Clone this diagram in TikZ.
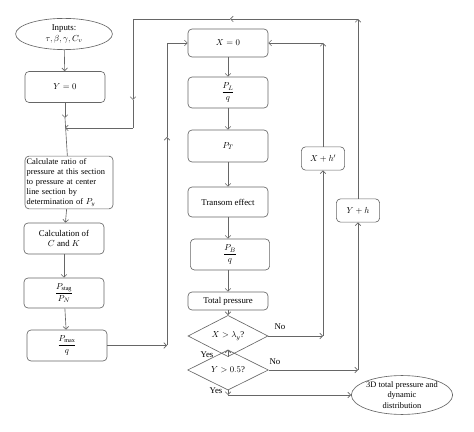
\documentclass[tikz,border=0pt]{standalone}
\usepackage{amsmath}
\usepackage{fontspec}
\setmainfont{Liberation Serif}
\usetikzlibrary{shapes.geometric, arrows.meta}

\begin{document}
\begin{tikzpicture}[x=1.25pt, y=-1.25pt, >={Straight Barb[length=3.5pt, width=7pt]},
    every node/.style={font=\fontsize{11}{13}\selectfont},
    lijn/.style={draw=black!60, line width=0.8pt},
    blok/.style={draw=black!60, line width=0.8pt, rounded corners=5pt, align=center,
        minimum width=100pt, minimum height=38.75pt, inner sep=2pt},
    keuze/.style={diamond, draw=black!60, line width=0.8pt, minimum width=100pt,
        minimum height=27.5pt, inner sep=0pt},
    eind/.style={ellipse, draw=black!60, line width=0.8pt, align=center, inner sep=0pt}]
            \useasboundingbox (0,0) rectangle (474,432);

            % Linker kolom
            \node[eind, minimum width=121pt, minimum height=39pt] (inp) at (64,34) {Inputs:\\ $\tau, \beta, \gamma, C_v$};
            \node[blok] (y0) at (65,87) {$Y = 0$};
            \node[blok, minimum width=110pt, minimum height=66pt, align=left, text width=106pt,
                font=\fontsize{10.5}{12.5}\selectfont] (calc) at (69,182.5)
                {Calculate ratio of\\ pressure at this section\\ to pressure at center\\ line section by\\ determination of $P_y$};
            \node[blok] (cck) at (64,238.5) {Calculation of\\ $C$ and $K$};
            \node[blok, minimum height=37.5pt] (stag) at (64,293) {$\dfrac{P_{\text{stag}}}{P_N}$};
            \node[blok] (pmax) at (67,345.5) {$\dfrac{P_{\max}}{q}$};

            % Middelste kolom
            \node[blok, minimum height=35pt] (x0) at (228,43) {$X = 0$};
            \node[blok] (pl) at (228,92.5) {$\dfrac{P_L}{q}$};
            \node[blok, minimum height=40pt] (pt) at (228,146) {$P_T$};
            \node[blok, minimum height=37.5pt] (trans) at (228,202) {Transom effect};
            \node[blok, minimum width=99pt] (pb) at (230,254.5) {$\dfrac{P_B}{q}$};
            \node[blok, minimum height=22.5pt] (tot) at (228,301) {Total pressure};
            \node[keuze] (dx) at (228,336) {$X > \lambda_y$?};
            \node[keuze, minimum width=101pt] (dy) at (228,370) {$Y > 0.5$?};

            % Rechter kolom
            \node[blok, minimum width=54pt, minimum height=29pt] (xh) at (323,158.5) {$X + h'$};
            \node[blok, minimum width=54pt, minimum height=29pt] (yh) at (358,210.5) {$Y + h$};
            \node[eind, minimum width=121pt, minimum height=42pt, font=\fontsize{10.5}{13.5}\selectfont] (uit) at (402,395)
                {3D total pressure and\\ dynamic\\ distribution};

            % Hulppunten
            \coordinate (a1) at (65,118);
            \coordinate (a2) at (65,128);
            \coordinate (tl) at (133,19);
            \coordinate (tm) at (230,19);
            \coordinate (tr) at (358,19);
            \coordinate (lm) at (133,100);
            \coordinate (lb) at (133,128);
            \coordinate (yr) at (358,370);
            \coordinate (xr) at (323,336);
            \coordinate (xt) at (323,43);
            \coordinate (pr) at (167,345.5);
            \coordinate (pm) at (167,137);
            \coordinate (pq) at (167,43);
            \coordinate (yb) at (228,395);

            % Hoofdstroom
            \draw[lijn, ->] (inp) -- (y0);
            \draw[lijn, ->] (y0) -- (a1);
            \draw[lijn] (a1) -- (calc);
            \draw[lijn, ->] (calc) -- (cck);
            \draw[lijn, ->] (cck) -- (stag);
            \draw[lijn, ->] (stag) -- (pmax);
            \draw[lijn, ->] (pmax.east |- pr) -- (pr);
            \draw[lijn, ->] (pr) -- (pm);
            \draw[lijn] (pm) -- (pq);
            \draw[lijn, ->] (pq) -- (x0.west |- pq);
            \draw[lijn, ->] (x0) -- (pl);
            \draw[lijn, ->] (pl) -- (pt);
            \draw[lijn, ->] (pt) -- (trans);
            \draw[lijn, ->] (trans) -- (tot.north |- pb.north);
            \draw[lijn, ->] (tot.north |- pb.south) -- (tot);
            \draw[lijn, ->] (tot) -- (dx);
            \draw[lijn, ->] (dx) -- (dy);
            \node at (207,355) {Yes};
            \draw[lijn, ->] (dy) -- (yb);
            \draw[lijn, ->] (yb) -- (uit);
            \node at (216,391) {Yes};

            % Lus X
            \draw[lijn, ->] (dx.east) -- (xr);
            \node at (280,327) {No};
            \draw[lijn, ->] (xr) -- (xh);
            \draw[lijn, ->] (xh) -- (xt);
            \draw[lijn, ->] (xt) -- (x0);

            % Lus Y
            \draw[lijn, ->] (dy.east) -- (yr);
            \node at (275,362) {No};
            \draw[lijn, ->] (yr) -- (yh);
            \draw[lijn, ->] (yh) -- (tr);
            \draw[lijn, ->] (tr) -- (tm);
            \draw[lijn] (tm) -- (tl);
            \draw[lijn, ->] (tl) -- (lm);
            \draw[lijn] (lm) -- (lb);
            \draw[lijn, ->] (lb) -- (a2);
\end{tikzpicture}
\end{document}
